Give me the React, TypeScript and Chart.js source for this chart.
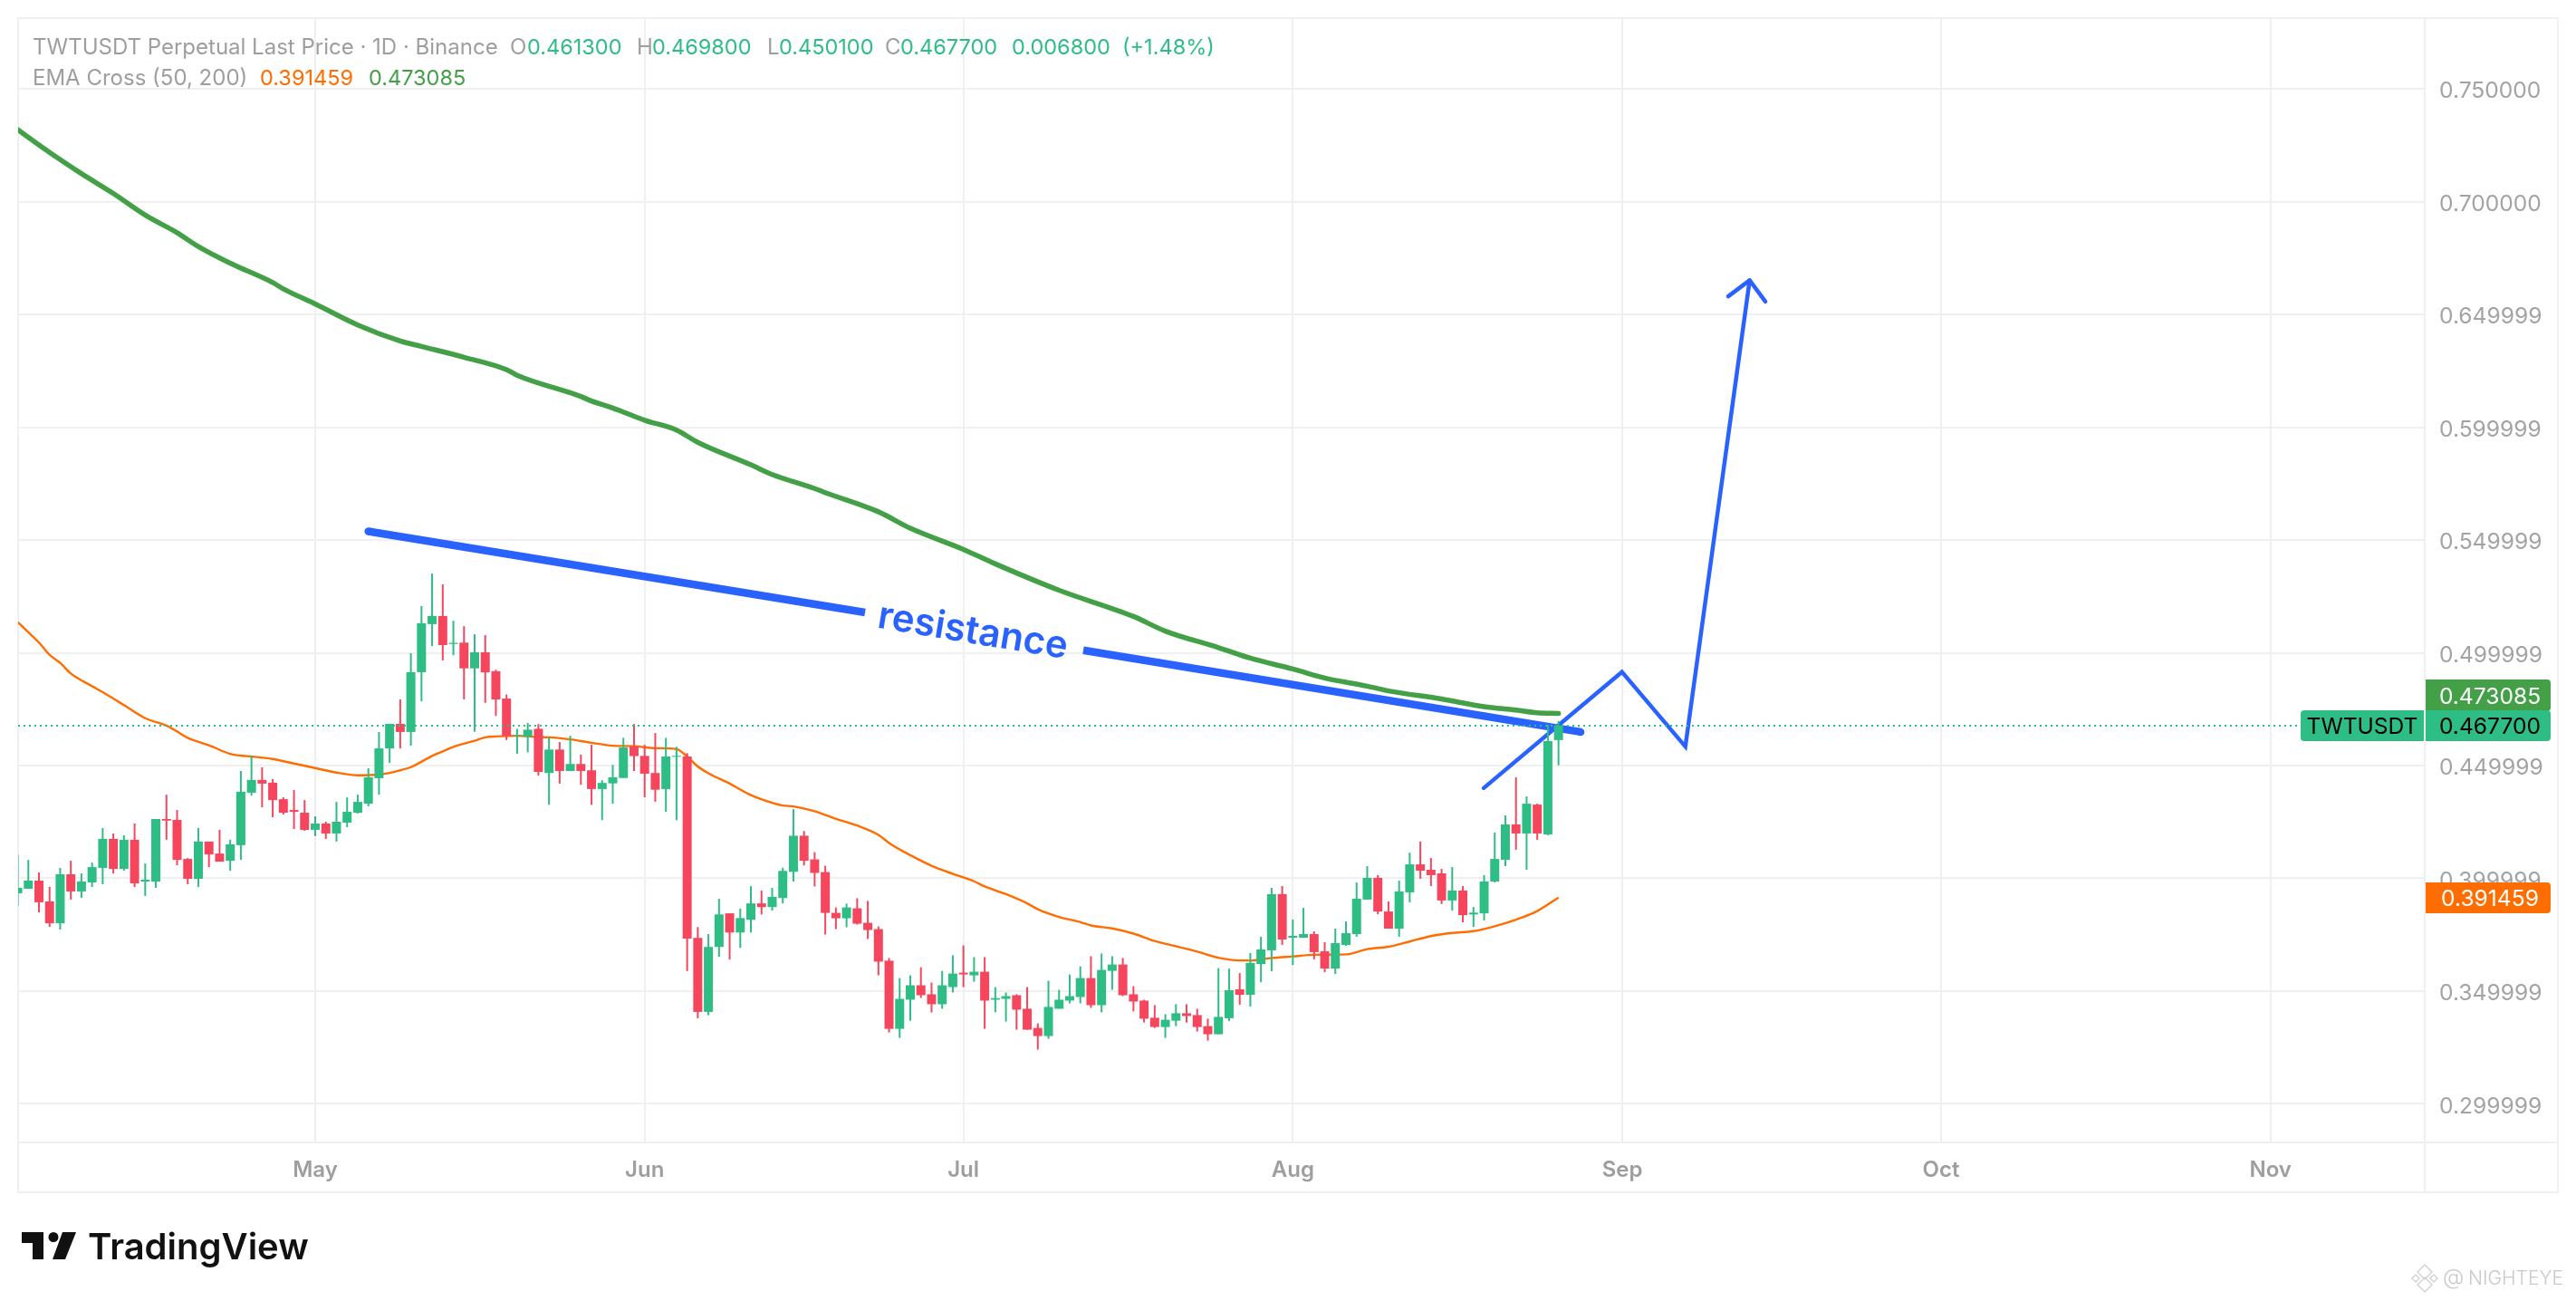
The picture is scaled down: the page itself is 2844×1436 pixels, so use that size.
import React, { useEffect, useRef } from "react";
import { Chart, registerables } from "chart.js";

Chart.register(...registerables);

// All x values are calendar days counted from 1 May (0 = May 1).
const firstCandleDay = -28;

const openValues = [
  .3934,.3954,.3990,.3898,.3801,.4018,.3942,.3982,.4046,.4175,
  .4042,.4171,.3986,.3986,.4263,.4259,.4086,.3998,.4163,.4110,
  .4078,.4147,.4380,.4436,.4424,.4351,.4303,.4291,
  .4215,.4243,.4199,.4247,.4291,.4331,.4444,.4576,.4685,.4649,
  .4914,.5127,.5163,.5039,.5045,.4931,.5002,.4918,.4797,.4631,
  .4628,.4663,.4467,.4571,.4476,.4507,.4479,.4396,.4421,.4445,
  .4585,.4543,.4467,.4396,.4539,.4540,.3736,.3408,.3696,.3845,
  .3760,.3816,.3889,.3873,.3913,.4029,.4189,.4084,.4028,.3847,
  .3823,.3867,.3803,.3775,.3635,.3333,.3462,.3526,.3486,.3442,
  .3518,.3582,.3570,.3586,.3462,.3466,.3482,.3422,.3337,.3301,
  .3422,.3458,.3474,.3558,.3438,.3590,.3618,.3486,.3458,.3382,
  .3341,.3369,.3402,.3394,.3345,.3309,.3380,.3508,.3484,.3620,
  .3681,.3930,.3737,.3737,.3753,.3677,.3600,.3705,.3753,.3906,
  .4002,.3853,.3777,.3938,.4062,.4038,.4022,.3902,.3946,.3840,
  .3845,.3986,.4082,.4239,.4199,.4327,.4195,.4613,
];
const highValues = [
  .4105,.4082,.4026,.3962,.4046,.4078,.4022,.4070,.4223,.4199,
  .4191,.4243,.4066,.4263,.4371,.4303,.4090,.4223,.4163,.4215,
  .4171,.4476,.4544,.4492,.4440,.4359,.4392,.4347,
  .4275,.4251,.4339,.4359,.4371,.4488,.4649,.4685,.4793,.4998,
  .5207,.5351,.5303,.5142,.5118,.5082,.5078,.4925,.4815,.4663,
  .4689,.4684,.4625,.4604,.4632,.4548,.4592,.4435,.4503,.4623,
  .4684,.4592,.4644,.4623,.4583,.4555,.3784,.3753,.3909,.3845,
  .3866,.3965,.3946,.3958,.4047,.4307,.4210,.4116,.4056,.3871,
  .3888,.3912,.3900,.3787,.3647,.3558,.3570,.3606,.3538,.3590,
  .3659,.3703,.3651,.3651,.3518,.3494,.3486,.3518,.3357,.3546,
  .3506,.3574,.3610,.3655,.3667,.3655,.3647,.3522,.3462,.3438,
  .3398,.3442,.3442,.3422,.3378,.3602,.3600,.3580,.3669,.3741,
  .3958,.3966,.3817,.3869,.3765,.3717,.3777,.3809,.3982,.4054,
  .4014,.3898,.3990,.4114,.4163,.4090,.4042,.4050,.3966,.3873,
  .4014,.4203,.4279,.4448,.4363,.4331,.4681,.4698,
];
const lowValues = [
  .3878,.3954,.3849,.3785,.3773,.3906,.3914,.3962,.3974,.4022,
  .4034,.3962,.3922,.3958,.4171,.4058,.3974,.3962,.4050,.4074,
  .4034,.4082,.4367,.4315,.4271,.4283,.4219,.4211,
  .4187,.4175,.4163,.4227,.4287,.4319,.4371,.4512,.4576,.4588,
  .4785,.5030,.4966,.4989,.4793,.4650,.4778,.4720,.4613,.4552,
  .4559,.4455,.4326,.4420,.4476,.4415,.4326,.4258,.4331,.4445,
  .4476,.4359,.4340,.4295,.4258,.3589,.3380,.3393,.3652,.3640,
  .3692,.3760,.3840,.3857,.3889,.3986,.4057,.3964,.3751,.3775,
  .3783,.3795,.3731,.3570,.3317,.3293,.3369,.3470,.3406,.3422,
  .3494,.3518,.3542,.3333,.3406,.3365,.3329,.3329,.3241,.3289,
  .3422,.3446,.3446,.3426,.3406,.3506,.3478,.3410,.3361,.3337,
  .3293,.3345,.3361,.3321,.3281,.3309,.3367,.3440,.3432,.3540,
  .3588,.3705,.3616,.3737,.3641,.3584,.3576,.3701,.3741,.3906,
  .3841,.3777,.3741,.3894,.3998,.3966,.3886,.3857,.3805,.3785,
  .3813,.3982,.4054,.4127,.4038,.4171,.4191,.4501,
];
const closeValues = [
  .3958,.3990,.3894,.3801,.4018,.3942,.3986,.4050,.4175,.4042,
  .4171,.3978,.3994,.4263,.4256,.4082,.3998,.4163,.4106,.4074,
  .4151,.4384,.4436,.4420,.4347,.4291,.4295,.4215,
  .4243,.4199,.4251,.4295,.4339,.4448,.4576,.4685,.4649,.4914,
  .5131,.5163,.5034,.5044,.4931,.5002,.4913,.4793,.4632,.4635,
  .4659,.4472,.4571,.4476,.4507,.4476,.4396,.4423,.4448,.4580,
  .4542,.4464,.4393,.4540,.4543,.3733,.3408,.3696,.3840,.3760,
  .3824,.3889,.3873,.3918,.4033,.4189,.4078,.4024,.3847,.3823,
  .3871,.3799,.3771,.3631,.3333,.3466,.3526,.3482,.3442,.3526,
  .3578,.3574,.3586,.3458,.3469,.3478,.3418,.3329,.3301,.3430,
  .3462,.3478,.3558,.3438,.3594,.3618,.3482,.3454,.3378,.3341,
  .3373,.3402,.3390,.3341,.3309,.3386,.3504,.3484,.3625,.3685,
  .3930,.3729,.3745,.3753,.3673,.3600,.3713,.3757,.3910,.4002,
  .3853,.3777,.3942,.4062,.4034,.4014,.3902,.3946,.3837,.3848,
  .3986,.4086,.4239,.4199,.4331,.4199,.4608,.4677,
];

const ema50Days = [-28,-26,-25,-24,-23,-21,-20,-18,-16,-14,-13,-12,-10,-8,-7,-6,-4,-2,0,2,4,6,8,9,11,12,13,15,16,17,19,21,22,24,26,28,30,32,34,35,36,37,39,41,43,44,45,47,48,49,51,53,54,56,58,60,62,63,65,67,68,70,72,73,75,77,79,81,83,85,87,88,90,92,94,97,99,101,103,105,107,109,111,113,115,117];
const ema50Values = [.5136,.5045,.4991,.4955,.4908,.4852,.4825,.4768,.4710,.4677,.4651,.4623,.4590,.4552,.4544,.4540,.4529,.4509,.4489,.4469,.4457,.4460,.4479,.4493,.4543,.4563,.4583,.4610,.4625,.4629,.4632,.4626,.4625,.4616,.4601,.4588,.4586,.4577,.4573,.4540,.4496,.4466,.4420,.4369,.4335,.4323,.4319,.4298,.4281,.4264,.4234,.4193,.4157,.4103,.4056,.4020,.3987,.3964,.3930,.3889,.3863,.3829,.3806,.3791,.3778,.3755,.3722,.3699,.3675,.3648,.3636,.3636,.3647,.3654,.3661,.3663,.3686,.3697,.3720,.3744,.3758,.3766,.3788,.3817,.3855,.3915];

const ema200Days = [-28,-26,-25,-22,-19,-16,-13,-11,-8,-4,-3,0,4,8,10,14,18,19,25,26,28,31,34,36,41,43,47,48,53,56,61,64,70,77,80,85,88,92,95,99,101,106,110,113,115,117];
const ema200Values = [.7319,.7251,.7218,.7124,.7036,.6940,.6862,.6801,.6727,.6641,.6613,.6546,.6453,.6382,.6358,.6310,.6255,.6230,.6136,.6116,.6085,.6031,.5987,.5933,.5833,.5790,.5728,.5710,.5625,.5552,.5458,.5394,.5277,.5161,.5096,.5023,.4976,.4928,.4888,.4852,.4831,.4795,.4761,.4746,.4734,.4731];

const resistanceLeftDays = [5.0, 51.74];
const resistanceLeftPrices = [.5538, .5179];
const resistanceRightDays = [72.28, 119.08];
const resistanceRightPrices = [.5011, .4649];
const resistanceLabelDay = 61.88;
const resistanceLabelPrice = .5093;
const resistanceLabel = "resistance";

const pathDays = [109.96, 122.97, 128.94, 134.99];
const pathPrices = [.4400, .4915, .4584, .6651];
const arrowHeadDays = [132.97, 134.99, 136.47];
const arrowHeadPrices = [.6580, .6651, .6557];

const lastPrice = 0.4677;
const lastPriceLineDays = [-27.96, 186.7];

const priceTicks = [.75, .7, .65, .6, .55, .5, .45, .4, .35, .3];
const priceTickLabels = ["0.750000","0.700000","0.649999","0.599999","0.549999","0.499999","0.449999","0.399999","0.349999","0.299999"];
const monthTicks = [0, 31, 61, 92, 123, 153, 184];
const monthLabels = ["May","Jun","Jul","Aug","Sep","Oct","Nov"];

const GREEN = "#2ebd85";
const RED = "#f6465d";
const BLUE = "#2962ff";
const EMA_GREEN = "#43a047";
const ORANGE = "#ff6d00";
const GRID = "#f0f0f0";
const GRAY = "#9e9e9e";
const FONT = "Inter, sans-serif";

const xy = (xs: number[], ys: number[]) => xs.map((x, i) => ({ x, y: ys[i] }));

const candleDays = closeValues.map((_, i) => firstCandleDay + i);
const candleColors = closeValues.map((c, i) => (c >= openValues[i] ? GREEN : RED));

const overlayPlugin = {
  id: "overlay",
  beforeDraw(chart: any) {
    const c = chart.ctx;
    const { left, top, right, bottom } = chart.chartArea;
    c.save();
    c.strokeStyle = GRID;
    c.lineWidth = 2;
    c.strokeRect(left, top, 2824 - left, 1316 - top);
    c.beginPath();
    c.moveTo(right, top); c.lineTo(right, 1316);
    c.moveTo(left, bottom); c.lineTo(2824, bottom);
    c.stroke();
    c.restore();
  },
  afterDraw(chart: any) {
    const c = chart.ctx;
    const sx = chart.scales.x, sy = chart.scales.y;
    c.save();
    c.textBaseline = "middle";

    // resistance label, following the line's slope
    const ax = sx.getPixelForValue(resistanceLeftDays[0]), ay = sy.getPixelForValue(resistanceLeftPrices[0]);
    const bx = sx.getPixelForValue(resistanceRightDays[1]), by = sy.getPixelForValue(resistanceRightPrices[1]);
    c.save();
    c.translate(sx.getPixelForValue(resistanceLabelDay), sy.getPixelForValue(resistanceLabelPrice));
    c.rotate(Math.atan2(by - ay, bx - ax));
    c.font = `600 42px ${FONT}`;
    c.fillStyle = BLUE;
    c.textAlign = "center";
    c.fillText(resistanceLabel, 0, 0);
    c.restore();

    // legend
    c.textAlign = "left";
    const line1: [string, string, number][] = [
      ["TWTUSDT Perpetual Last Price · 1D · Binance", GRAY, 36],
      ["O", GRAY, 563], ["0.461300", GREEN, 582],
      ["H", GRAY, 703], ["0.469800", GREEN, 720],
      ["L", GRAY, 847], ["0.450100", GREEN, 860],
      ["C", GRAY, 977], ["0.467700", GREEN, 994],
      ["0.006800", GREEN, 1117], ["(+1.48%)", GREEN, 1239],
    ];
    line1.forEach(([t, col, x]) => {
      c.font = `400 ${col === GRAY ? 24 : 23.5}px ${FONT}`;
      c.fillStyle = col;
      c.fillText(t, x, 53);
    });
    const line2: [string, string, number][] = [
      ["EMA Cross (50, 200)", GRAY, 36],
      ["0.391459", ORANGE, 287],
      ["0.473085", EMA_GREEN, 407],
    ];
    line2.forEach(([t, col, x]) => {
      c.font = `400 ${col === GRAY ? 24 : 23.5}px ${FONT}`;
      c.fillStyle = col;
      c.fillText(t, x, 87);
    });

    // price badges
    const badge = (x: number, yTop: number, w: number, h: number, r: any, bg: string, text: string, fg: string, tx: number) => {
      c.fillStyle = bg;
      c.beginPath();
      c.roundRect(x, yTop, w, h, r);
      c.fill();
      c.fillStyle = fg;
      c.textAlign = "center";
      c.font = `400 24.6px ${FONT}`;
      c.fillText(text, tx, yTop + h / 2 + 2);
    };
    badge(2678, 750, 138, 35, [0, 4, 4, 0], EMA_GREEN, "0.473085", "#ffffff", 2749);
    badge(2678, 784, 138, 34, [0, 4, 4, 0], GREEN, "0.467700", "#000000", 2749);
    badge(2678, 974, 138, 34, [0, 4, 4, 0], ORANGE, "0.391459", "#ffffff", 2749);
    badge(2540, 784, 136, 34, [4, 0, 0, 4], GREEN, "TWTUSDT", "#000000", 2608);

    // TradingView logo
    c.fillStyle = "#111111";
    c.fillRect(24, 1360, 24, 12);
    c.fillRect(36, 1360, 12, 30);
    c.beginPath(); c.arc(59, 1365.5, 5.5, 0, Math.PI * 2); c.fill();
    c.beginPath();
    c.moveTo(69, 1360); c.lineTo(84, 1360); c.lineTo(72, 1390); c.lineTo(58, 1390);
    c.fill();
    c.textAlign = "left";
    c.font = `600 40px ${FONT}`;
    c.textBaseline = "alphabetic";
    c.fillText("TradingView", 97, 1390);

    // watermark
    c.strokeStyle = "#d4d4d4";
    c.lineWidth = 1.5;
    const diamond = (cx: number, cy: number, r: number) => {
      c.beginPath();
      c.moveTo(cx, cy - r); c.lineTo(cx + r, cy); c.lineTo(cx, cy + r); c.lineTo(cx - r, cy); c.closePath();
      c.stroke();
    };
    diamond(2677, 1404, 8); diamond(2667, 1411, 4); diamond(2687, 1411, 4); diamond(2677, 1418, 8);
    c.fillStyle = "#c9c9c9";
    c.textBaseline = "middle";
    c.font = `300 24px ${FONT}`;
    c.fillText("@", 2697, 1411);
    c.font = `300 21px ${FONT}`;
    c.fillText("NIGHTEYE", 2725, 1412);
    c.restore();
  },
};

export default function App() {
  const ref = useRef<HTMLCanvasElement | null>(null);
  useEffect(() => {
    document.body.style.margin = "0";
    document.body.style.background = "#ffffff";
    const chart = new Chart(ref.current as HTMLCanvasElement, {
      type: "bar",
      data: {
        datasets: [
          {
            type: "line", label: "EMA 200", data: xy(ema200Days, ema200Values), order: 6,
            borderColor: EMA_GREEN, borderWidth: 5.5, pointRadius: 0, borderCapStyle: "round", borderJoinStyle: "round",
            cubicInterpolationMode: "monotone",
          },
          {
            type: "line", label: "EMA 50", data: xy(ema50Days, ema50Values), order: 7,
            borderColor: ORANGE, borderWidth: 2.4, pointRadius: 0, borderJoinStyle: "round",
            cubicInterpolationMode: "monotone",
          },
          {
            type: "line", label: "Resistance A", data: xy(resistanceLeftDays, resistanceLeftPrices), order: 5,
            borderColor: BLUE, backgroundColor: BLUE, borderWidth: 8.5, pointRadius: [4.25, 0], pointBorderWidth: 0, borderCapStyle: "butt",
          },
          {
            type: "line", label: "Resistance B", data: xy(resistanceRightDays, resistanceRightPrices), order: 5,
            borderColor: BLUE, backgroundColor: BLUE, borderWidth: 8.5, pointRadius: [0, 4.25], pointBorderWidth: 0, borderCapStyle: "butt",
          },
          {
            type: "line", label: "Projection", data: xy(pathDays, pathPrices), order: 5,
            borderColor: BLUE, borderWidth: 4.5, pointRadius: 0, borderCapStyle: "round", borderJoinStyle: "miter",
          },
          {
            type: "line", label: "Arrow head", data: xy(arrowHeadDays, arrowHeadPrices), order: 5,
            borderColor: BLUE, borderWidth: 4.5, pointRadius: 0, borderCapStyle: "round", borderJoinStyle: "round",
          },
          {
            type: "bar", label: "Wick",
            data: candleDays.map((x, i) => ({ x, y: [lowValues[i], highValues[i]] })) as any,
            backgroundColor: candleColors, barThickness: 2, grouped: false, order: 4, inflateAmount: 0,
          },
          {
            type: "bar", label: "Body",
            data: candleDays.map((x, i) => ({ x, y: [openValues[i], closeValues[i]] })) as any,
            backgroundColor: candleColors, barThickness: 10, grouped: false, order: 3, inflateAmount: 0,
          },
          {
            type: "line", label: "Last price",
            data: xy(lastPriceLineDays, [lastPrice, lastPrice]), order: 1,
            borderColor: GREEN, borderWidth: 2, borderDash: [2, 4], pointRadius: 0,
          },
        ] as any,
      },
      options: {
        responsive: false,
        animation: false,
        devicePixelRatio: 1,
        layout: { padding: { left: 20, top: 20, right: 20, bottom: 120 } },
        plugins: { legend: { display: false }, tooltip: { enabled: false } },
        scales: {
          x: {
            type: "linear",
            offset: false,
            min: -27.96,
            max: 198.52,
            afterBuildTicks(axis: any) { axis.ticks = monthTicks.map((value) => ({ value })); },
            afterFit(axis: any) { axis.height = 55; axis.paddingLeft = 0; axis.paddingRight = 0; },
            grid: { color: GRID, lineWidth: 2, offset: false, drawTicks: false },
            border: { display: false },
            ticks: {
              autoSkip: false, maxRotation: 0, padding: 16,
              color: GRAY, font: { family: FONT, size: 24, weight: "600" },
              callback: (v: any) => monthLabels[monthTicks.indexOf(Number(v))] ?? "",
            },
          },
          y: {
            type: "linear",
            position: "right",
            min: 0.28293,
            max: 0.78133,
            afterBuildTicks(axis: any) { axis.ticks = priceTicks.map((value) => ({ value })); },
            afterFit(axis: any) { axis.width = 147; axis.paddingTop = 0; axis.paddingBottom = 0; },
            grid: { color: GRID, lineWidth: 2, drawTicks: false },
            border: { display: false },
            ticks: {
              autoSkip: false, padding: 16, labelOffset: 3,
              color: "#a3a3a3", font: { family: FONT, size: 24.6, weight: "400" },
              callback: (v: any) => priceTickLabels[priceTicks.indexOf(Number(v))] ?? "",
            },
          },
        },
      } as any,
      plugins: [overlayPlugin as any],
    });
    return () => chart.destroy();
  }, []);
  return <canvas ref={ref} width={2844} height={1436} style={{ display: "block", width: 2844, height: 1436 }} />;
}
